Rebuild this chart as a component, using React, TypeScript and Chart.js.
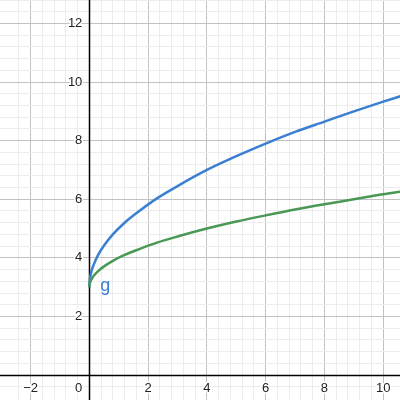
import { useEffect, useRef } from "react";
import { Chart, registerables, ChartConfiguration, Plugin } from "chart.js";

Chart.register(...registerables);

// values
const xValues = [0, 0.01, 0.03, 0.08, 0.15, 0.3, 0.5, 0.8, 1.2, 1.7, 2.3, 3, 4, 5, 6, 7, 8, 9, 10, 10.6];
const blueValues = [3, 3.2, 3.35, 3.57, 3.77, 4.1, 4.42, 4.8, 5.2, 5.6, 6.03, 6.45, 7.0, 7.47, 7.9, 8.3, 8.65, 9.0, 9.33, 9.52];
const greenValues = [3, 3.1, 3.17, 3.28, 3.39, 3.55, 3.71, 3.9, 4.1, 4.3, 4.52, 4.73, 5.0, 5.24, 5.45, 5.65, 5.83, 6.0, 6.17, 6.26];

const xTicks = [-2, 2, 4, 6, 8, 10];
const yTicks = [2, 4, 6, 8, 10, 12];
const curveLabel = "g";

const BLUE = "#3a7fd1";
const GREEN = "#4a9856";

const isMultiple = (v: number, step: number) => Math.abs(v / step - Math.round(v / step)) < 1e-6;

function gridColor(ctx: any) {
    const v = ctx.tick?.value ?? 0;
    if (Math.abs(v) < 1e-6) return "rgba(0,0,0,0)";
    if (isMultiple(v, 2)) return "#c2c2c2";
    if (isMultiple(v, 0.4)) return "#ececec";
    return "rgba(0,0,0,0)";
}

// x and y axis lines drawn over the grid, under the curves
const axesPlugin: Plugin = {
    id: "axesLines",
    beforeDatasetsDraw(chart) {
        const ctx = chart.ctx;
        const { left, right, top, bottom } = chart.chartArea;
        const x0 = Math.round(chart.scales.x.getPixelForValue(0)) + 0.5;
        const y0 = Math.round(chart.scales.y.getPixelForValue(0)) + 0.5;
        ctx.save();
        ctx.strokeStyle = "#000000";
        ctx.lineWidth = 1.5;
        ctx.beginPath();
        ctx.moveTo(x0, top);
        ctx.lineTo(x0, bottom);
        ctx.moveTo(left, y0);
        ctx.lineTo(right, y0);
        ctx.stroke();
        ctx.restore();
    }
};

const labelPlugin: Plugin = {
    id: "axisLabels",
    afterDraw(chart) {
        const ctx = chart.ctx;
        const xs = chart.scales.x;
        const ys = chart.scales.y;
        const x0 = xs.getPixelForValue(0);
        const y0 = ys.getPixelForValue(0);
        ctx.save();
        ctx.font = "13px 'Liberation Sans', Arial, sans-serif";
        ctx.lineJoin = "round";
        ctx.lineWidth = 3;
        ctx.strokeStyle = "#ffffff";
        ctx.fillStyle = "#222222";
        const put = (t: string, x: number, y: number) => {
            ctx.strokeText(t, x, y);
            ctx.fillText(t, x, y);
        };
        ctx.textAlign = "center";
        ctx.textBaseline = "top";
        xTicks.forEach(v => put(v < 0 ? "\u2212" + Math.abs(v) : String(v), xs.getPixelForValue(v), y0 + 7));
        ctx.textAlign = "right";
        put("0", x0 - 7, y0 + 7);
        ctx.textBaseline = "middle";
        yTicks.forEach(v => put(String(v), x0 - 7, ys.getPixelForValue(v)));

        ctx.font = "18px 'Liberation Sans', Arial, sans-serif";
        ctx.fillStyle = BLUE;
        ctx.textAlign = "left";
        ctx.textBaseline = "alphabetic";
        ctx.fillText(curveLabel, xs.getPixelForValue(xValues[0]) + 11, ys.getPixelForValue(blueValues[0]) + 4);
        ctx.restore();
    }
};

export default function App() {
    const canvasRef = useRef<HTMLCanvasElement>(null);
    const chartRef = useRef<Chart | null>(null);

    useEffect(() => {
        document.body.style.margin = "0";
        if (!canvasRef.current) return;
        if (chartRef.current) chartRef.current.destroy();
        const ctx = canvasRef.current.getContext("2d");
        if (!ctx) return;

        const scaleOpts = (min: number, max: number) => ({
            type: "linear" as const,
            min,
            max,
            ticks: { display: false, stepSize: 0.4, maxTicksLimit: 200, autoSkip: false },
            grid: { color: gridColor, lineWidth: 1, drawTicks: false },
            border: { display: false }
        });

        const config: ChartConfiguration = {
            type: "scatter",
            data: {
                datasets: [
                    {
                        label: "green",
                        data: xValues.map((x, i) => ({ x, y: greenValues[i] })),
                        borderColor: GREEN,
                        borderWidth: 2.5,
                        showLine: true,
                        pointRadius: 0,
                        cubicInterpolationMode: "monotone"
                    },
                    {
                        label: "blue",
                        data: xValues.map((x, i) => ({ x, y: blueValues[i] })),
                        borderColor: BLUE,
                        borderWidth: 2.5,
                        showLine: true,
                        pointRadius: 0,
                        cubicInterpolationMode: "monotone"
                    }
                ]
            },
            options: {
                animation: false,
                responsive: false,
                layout: { padding: 0 },
                plugins: { legend: { display: false }, tooltip: { enabled: false } },
                scales: {
                    x: scaleOpts(-3.04, 10.57),
                    y: scaleOpts(-0.85, 12.8)
                }
            },
            plugins: [axesPlugin, labelPlugin]
        };

        chartRef.current = new Chart(ctx, config);
        return () => {
            if (chartRef.current) {
                chartRef.current.destroy();
                chartRef.current = null;
            }
        };
    }, []);

    return (
        <div style={{ width: 400, height: 400, background: "#ffffff" }}>
            <canvas ref={canvasRef} width={400} height={400} />
        </div>
    );
}
